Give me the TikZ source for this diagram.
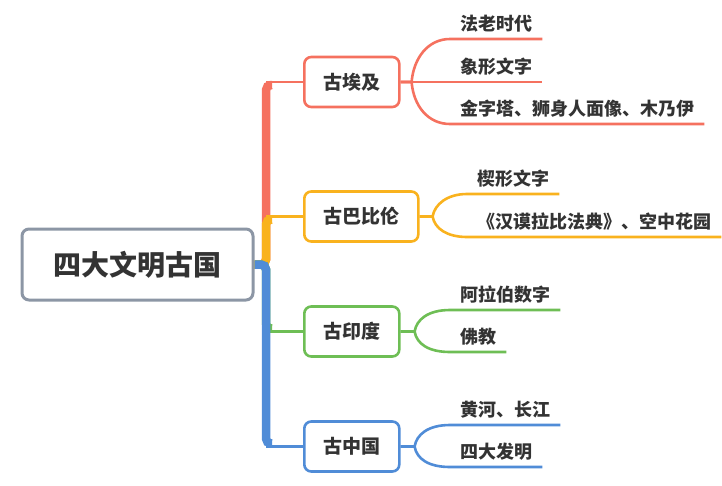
\documentclass[tikz,border=0pt]{standalone}
\usepackage{fontspec}
\setmainfont{Noto Sans CJK SC}
\definecolor{cText}{RGB}{51,51,51}
\definecolor{cRoot}{RGB}{140,150,165}
\definecolor{cEgypt}{RGB}{245,113,95}
\definecolor{cBabylon}{RGB}{249,178,30}
\definecolor{cIndia}{RGB}{110,190,85}
\definecolor{cChina}{RGB}{80,140,215}
\begin{document}
\begin{tikzpicture}[x=1pt,y=-1pt,
    root/.style={draw=cRoot,line width=3pt,rounded corners=7pt,minimum width=231pt,minimum height=71pt,text=cText,font=\fontsize{28}{30}\selectfont\bfseries},
    branch/.style={draw=#1,line width=2.6pt,rounded corners=7pt,anchor=west,inner xsep=19pt,minimum height=50pt,text=cText,font=\fontsize{19}{21}\selectfont\bfseries},
    leaf/.style={anchor=south west,inner xsep=10pt,inner ysep=8pt,text depth=0pt,text=cText,font=\fontsize{18}{20}\selectfont\bfseries},
    trunk/.style={draw=#1,line width=8.5pt,rounded corners=5pt},
    twig/.style={draw=#1,line width=2.6pt}]
    \useasboundingbox (0,0) rectangle (722,485);
    \node[root] (root) at (137.5,264.5) {四大文明古国};
    \node[branch=cEgypt] (egypt) at (303,82) {古埃及};
    \node[branch=cBabylon] (babylon) at (303,216.5) {古巴比伦};
    \node[branch=cIndia] (india) at (303,331.5) {古印度};
    \node[branch=cChina] (china) at (303,446.5) {古中国};
    % leaves
    \node[leaf] (e1) at (450,39) {法老时代};
    \node[leaf] (e2) at (450,82) {象形文字};
    \node[leaf] (e3) at (450,124) {金字塔、狮身人面像、木乃伊};
    \node[leaf] (b1) at (467,194) {楔形文字};
    \node[leaf] (b2) at (467,237) {《汉谟拉比法典》、空中花园};
    \node[leaf] (i1) at (450,310) {阿拉伯数字};
    \node[leaf] (i2) at (450,352) {佛教};
    \node[leaf] (c1) at (450,425) {黄河、长江};
    \node[leaf] (c2) at (450,467) {四大发明};
    % trunk from the root to the branches
    \draw[twig=cEgypt] ([xshift=-37]egypt.west) -- (egypt.west);
    \draw[trunk=cEgypt] (root.east) -| ([xshift=-37,yshift=-3]egypt.west) -- ([xshift=-31,yshift=-3]egypt.west);
    \draw[twig=cBabylon] ([xshift=-37]babylon.west) -- (babylon.west);
    \draw[trunk=cBabylon] (root.east) -| ([xshift=-37,yshift=-3]babylon.west) -- ([xshift=-31,yshift=-3]babylon.west);
    \draw[twig=cIndia] ([xshift=-37]india.west) -- (india.west);
    \draw[trunk=cIndia] (root.east) -| ([xshift=-37,yshift=3]india.west) -- ([xshift=-31,yshift=3]india.west);
    \draw[twig=cChina] ([xshift=-37]china.west) -- (china.west);
    \draw[trunk=cChina] (root.east) -| ([xshift=-37,yshift=3]china.west) -- ([xshift=-31,yshift=3]china.west);
    % branches to the leaves
    \draw[twig=cEgypt] (egypt.east) -- ++(11,0) .. controls +(2,-24) and +(-22,0) .. (e1.south west) -- (e1.south east);
    \draw[twig=cEgypt] (egypt.east) -- (e2.south west) -- (e2.south east);
    \draw[twig=cEgypt] (egypt.east) -- ++(11,0) .. controls +(2,24) and +(-22,0) .. (e3.south west) -- (e3.south east);
    \draw[twig=cBabylon] (babylon.east) -- ++(13,0) .. controls +(2,-12) and +(-20,0) .. (b1.south west) -- (b1.south east);
    \draw[twig=cBabylon] (babylon.east) -- ++(13,0) .. controls +(2,12) and +(-20,0) .. (b2.south west) -- (b2.south east);
    \draw[twig=cIndia] (india.east) -- ++(14,0) .. controls +(2,-12) and +(-22,0) .. (i1.south west) -- (i1.south east);
    \draw[twig=cIndia] (india.east) -- ++(14,0) .. controls +(2,12) and +(-22,0) .. (i2.south west) -- (i2.south east);
    \draw[twig=cChina] (china.east) -- ++(14,0) .. controls +(2,-12) and +(-22,0) .. (c1.south west) -- (c1.south east);
    \draw[twig=cChina] (china.east) -- ++(14,0) .. controls +(2,12) and +(-22,0) .. (c2.south west) -- (c2.south east);
\end{tikzpicture}
\end{document}
